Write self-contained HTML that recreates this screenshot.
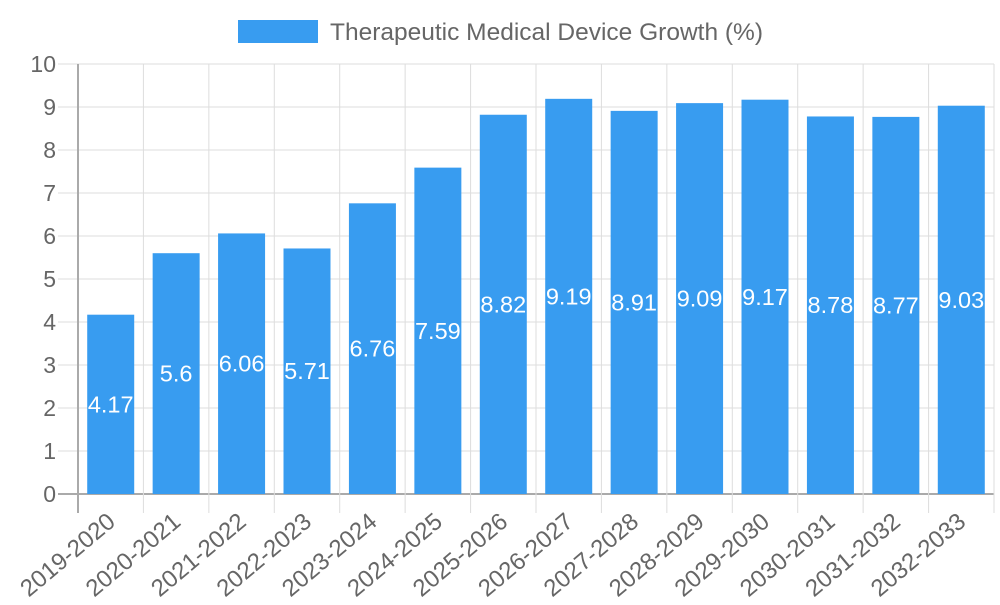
<!DOCTYPE html>
<html><head><meta charset="utf-8"><style>
body{margin:0;background:#fff;}
svg text{font-family:"Liberation Sans",sans-serif;}
</style></head><body>
<svg id="chart" width="1000" height="600" xmlns="http://www.w3.org/2000/svg">
<g id="legend">
<rect x="238" y="20" width="80" height="23" fill="#389cf0"/>
<text x="330" y="40" font-size="24.5" fill="#666">Therapeutic Medical Device Growth (%)</text>
</g>
<g id="grid"></g><g id="bars"></g><g id="labels"></g>
</svg>
<script>
const categories=["2019-2020","2020-2021","2021-2022","2022-2023","2023-2024","2024-2025","2025-2026","2026-2027","2027-2028","2028-2029","2029-2030","2030-2031","2031-2032","2032-2033"];
const values=[4.17,5.6,6.06,5.71,6.76,7.59,8.82,9.19,8.91,9.09,9.17,8.78,8.77,9.03];
const yTicks=[0,1,2,3,4,5,6,7,8,9,10];
const L=78,R=994,T=64,B=494,yMax=10;
const NS="http://www.w3.org/2000/svg";
const bw=(R-L)/categories.length;
const y=v=>B-(v/yMax)*(B-T);
const x=i=>L+i*bw;
function mk(t,a,p){const e=document.createElementNS(NS,t);for(const k in a)e.setAttribute(k,a[k]);p.appendChild(e);return e;}
const grid=document.getElementById('grid'),bars=document.getElementById('bars'),labels=document.getElementById('labels');
yTicks.forEach(v=>{
 const l=mk('line',{x1:58,x2:R,y1:y(v),y2:y(v),stroke:v===0?'#aaa':'#ddd','stroke-width':v===0?2:1},grid);
 
 
 const t=mk('text',{x:56,y:y(v)+8,'text-anchor':'end','font-size':23,fill:'#666'},grid);
 t.textContent=v;
 
 
});
for(let i=0;i<=categories.length;i++){
 const l=mk('line',{x1:x(i),x2:x(i),y1:T,y2:513,stroke:i===0?'#aaa':'#ddd','stroke-width':i===0?2:1},grid);
 
 
}
categories.forEach((c,i)=>{
 const cx=x(i)+bw/2,w=47;
 const r=mk('rect',{x:cx-w/2,y:y(values[i]),width:w,height:B-y(values[i]),fill:'#389cf0'},bars);
 
 
 const v=mk('text',{x:cx,y:(y(values[i])+B)/2+8,'text-anchor':'middle','font-size':23.5,fill:'#fff'},labels);
 v.textContent=values[i];
 
 
 const t=mk('text',{x:0,y:0,'text-anchor':'end','font-size':24,fill:'#666',transform:`translate(${cx+6},${524}) rotate(-40)`},labels);
 t.textContent=c;
 
 
});
</script>
</body></html>
